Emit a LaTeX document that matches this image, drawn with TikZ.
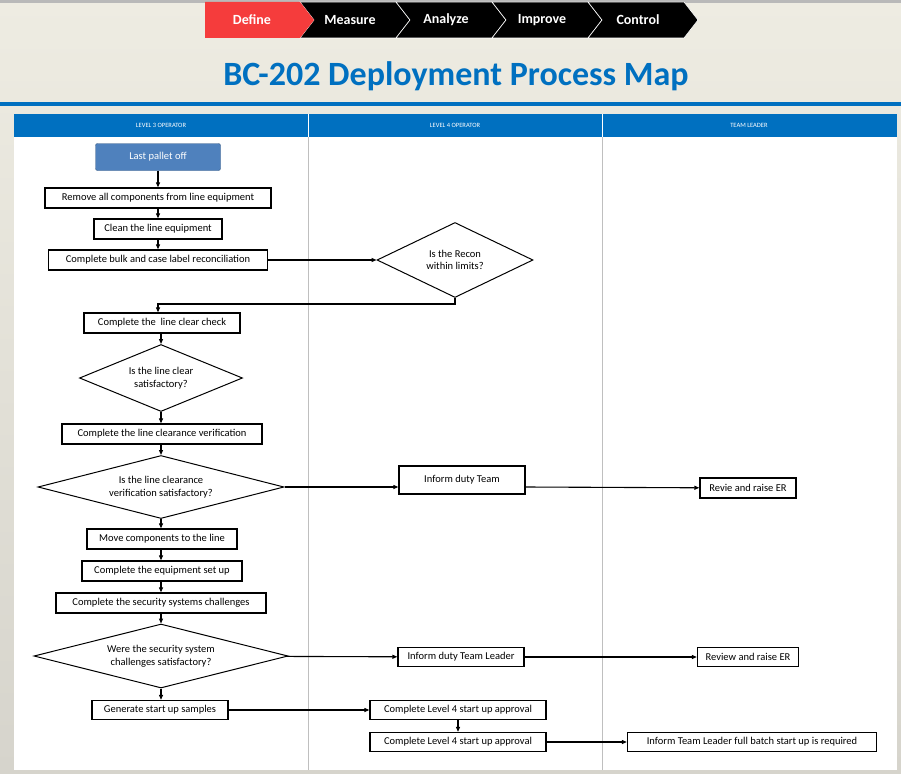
\documentclass[tikz,border=0pt]{standalone}
\usepackage{fontspec}
\setmainfont{Carlito}
\usetikzlibrary{shapes.geometric,arrows.meta}
\definecolor{bgtop}{RGB}{238,236,226}
\definecolor{bgbot}{RGB}{214,212,204}
\definecolor{titleblue}{RGB}{0,112,192}
\definecolor{hdrblue}{RGB}{0,112,192}
\definecolor{pallet}{RGB}{79,129,189}
\definecolor{defred}{RGB}{245,60,60}
\begin{document}
\begin{tikzpicture}[x=1pt,y=-1pt,
  box/.style={draw=black,line width=1.3pt,fill=white,inner sep=0pt,font=\fontsize{10.5}{12}\selectfont},
  dia/.style={diamond,draw=black,line width=1pt,fill=white,inner sep=0pt},
  dtext/.style={align=center,font=\fontsize{10.5}{12.5}\selectfont},
  arr/.style={line width=1.1pt,-{Triangle[length=5pt,width=4pt]}},
  chev/.style={fill=black,draw=white,line width=0.6pt},
  chevtext/.style={white,font=\fontsize{14}{16}\selectfont\bfseries},
  hdr/.style={white,font=\fontsize{6.5}{7}\selectfont}]
% background
\useasboundingbox (0,0) rectangle (901,773);
\shade[top color=bgtop,bottom color=bgbot] (0,0) rectangle (901,773);
\fill[gray!55] (0,0) rectangle (901,3);
% DMAIC chevrons
\foreach \x/\t in {300/Measure,396/Analyze,492/Improve,588/Control}{
  \draw[chev] (\x,2) -- ++(96,0) -- ++(14,18) -- ++(-14,18) -- ++(-96,0) -- ++(14,-18) -- cycle;
  \node[chevtext] at (\x+50,20) {\t};
}
\fill[defred] (205,2) -- (300,2) -- (314,20) -- (300,38) -- (205,38) -- cycle;
\node[chevtext] at (252,20) {Define};
% title
\node[titleblue,font=\fontsize{34}{38}\selectfont\bfseries] at (456,76) {BC-202 Deployment Process Map};
\fill[titleblue] (0,102) rectangle (901,106);
% swimlane table
\fill[white] (14,114) rectangle (897,770);
\fill[hdrblue] (14,114) rectangle (897,137);
\draw[white,line width=0.8pt] (308,114) -- (308,137) (602,114) -- (602,137);
\draw[gray!50,line width=0.6pt] (308,137) -- (308,770) (602,137) -- (602,770);
\node[hdr] at (161,125) {LEVEL 3 OPERATOR};
\node[hdr] at (455,125) {LEVEL 4 OPERATOR};
\node[hdr] at (749,125) {TEAM LEADER};
% level 3 column
\node[draw=pallet!70!black,fill=pallet,rounded corners=2pt,minimum width=125pt,minimum height=27pt,
  text=white,font=\fontsize{10.5}{12}\selectfont] (lp) at (158,157) {Last pallet off};
\node[box,minimum width=226pt,minimum height=20pt] (rm) at (158,198) {Remove all components from line equipment};
\node[box,minimum width=128pt,minimum height=20pt] (cl) at (158,229) {Clean the line equipment};
\node[box,minimum width=219pt,minimum height=20pt] (bk) at (158,260) {Complete bulk and case label reconciliation};
\node[box,minimum width=156pt,minimum height=20pt] (lc) at (162,323) {Complete the \ line clear check};
\node[dia,minimum width=163pt,minimum height=67pt,label={[dtext]center:Is the line clear\\satisfactory?}] (d1) at (161,378) {};
\node[box,minimum width=200pt,minimum height=20pt] (cv) at (162,434) {Complete the line clearance verification};
\node[dia,minimum width=246pt,minimum height=63pt,label={[dtext]center:Is the line clearance\\verification satisfactory?}] (d2) at (161,487) {};
\node[box,minimum width=150pt,minimum height=20pt] (mv) at (162,539) {Move components to the line};
\node[box,minimum width=160pt,minimum height=20pt] (es) at (162,571) {Complete the equipment set up};
\node[box,minimum width=210pt,minimum height=20pt] (ss) at (161,603) {Complete the security systems challenges};
\node[dia,minimum width=254pt,minimum height=64pt,label={[dtext]center:Were the security system\\challenges satisfactory?}] (d3) at (161,656) {};
\node[box,minimum width=136pt,minimum height=19pt] (gs) at (160,710) {Generate start up samples};
% level 4 column
\node[dia,minimum width=156pt,minimum height=75pt,label={[dtext]center:Is the Recon\\within limits?}] (rc) at (455,260) {};
\node[box,minimum width=126pt,minimum height=28pt] (it) at (462,480) {Inform duty Team};
\node[box,minimum width=126pt,minimum height=19pt] (itl) at (461,657) {Inform duty Team Leader};
\node[box,minimum width=176pt,minimum height=19pt] (a1) at (458,710) {Complete Level 4 start up approval};
\node[box,minimum width=176pt,minimum height=19pt] (a2) at (458,742) {Complete Level 4 start up approval};
% team leader column
\node[box,minimum width=96pt,minimum height=20pt] (r1) at (748,488) {Revie and raise ER};
\node[box,minimum width=101pt,minimum height=19pt] (r2) at (748,657) {Review and raise ER};
\node[box,minimum width=249pt,minimum height=19pt] (tl) at (752,742) {Inform Team Leader full batch start up is required};
% connectors
\draw[arr] (lp) -- (rm);
\draw[arr] (rm) -- (cl);
\draw[arr] (cl) -- (bk);
\draw[arr] (bk) -- (rc);
\coordinate (rt) at (455,304);
\draw[arr] (rc.south) -- (rt) -| (lc.north -| bk.south);
\draw[arr] (lc.south -| d1.north) -- (d1);
\draw[arr] (d1) -- (cv.north -| d1.south);
\draw[arr] (cv.south -| d2.north) -- (d2);
\draw[arr] (d2) -- (mv.north -| d2.south);
\draw[arr] (d2.east) -- (d2.east -| it.west);
\draw[arr] (d2.east -| it.east) -- (r1);
\draw[arr] (mv.south -| d2.south) -- (es.north -| d2.south);
\draw[arr] (es.south -| d2.south) -- (ss.north -| d2.south);
\draw[arr] (ss.south -| d3.north) -- (d3);
\draw[arr] (d3) -- (gs.north -| d3.south);
\draw[arr] (d3) -- (itl);
\draw[arr] (itl) -- (r2);
\draw[arr] (gs) -- (a1);
\draw[arr] (a1) -- (a2);
\draw[arr] (a2) -- (tl);
\end{tikzpicture}
\end{document}
